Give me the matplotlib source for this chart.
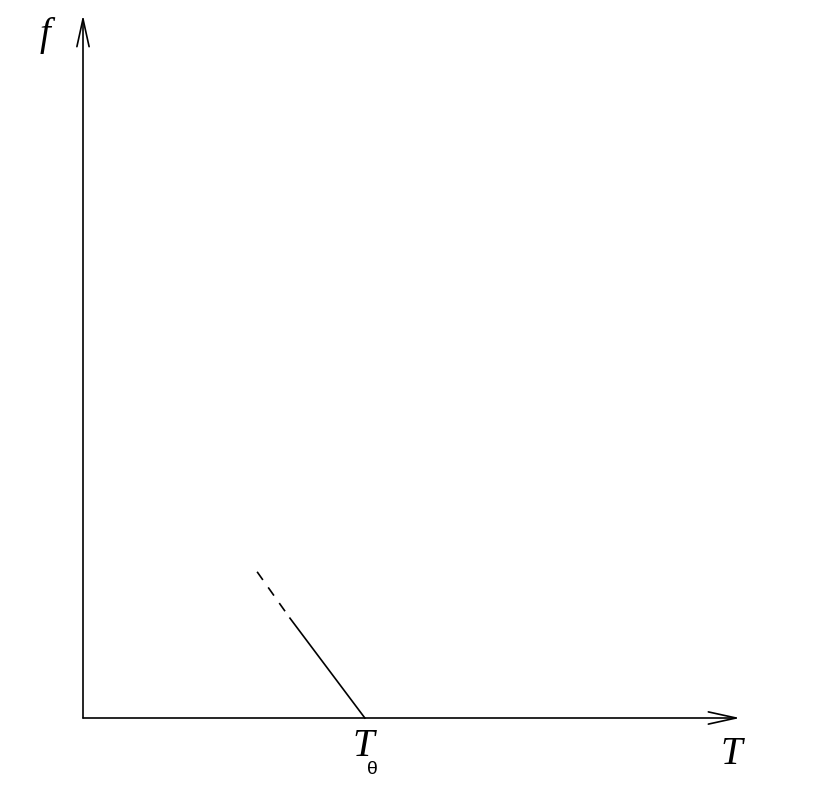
import matplotlib
matplotlib.use("Agg")
import matplotlib.pyplot as plt
from matplotlib.patches import FancyArrowPatch

# axis extent (data units, origin at 0)
x_end = 1.0
y_end = 1.0

# the f(T) line: solid part and dashed extension
t_theta = 0.429
solid_x = [t_theta, 0.315]
solid_y = [0.0, 0.142]
dash_x = [0.265, 0.315]
dash_y = [0.208, 0.142]

W, H = 816, 794
fig = plt.figure(figsize=(W / 100, H / 100), dpi=100)
ax = fig.add_axes([83 / W, 76 / H, 657 / W, 703 / H])
ax.set_xlim(0, x_end)
ax.set_ylim(0, y_end)
ax.axis("off")

arrow_style = "->,head_length=1.0,head_width=0.22"
for end in [(x_end, 0), (0, y_end)]:
    a = FancyArrowPatch((0, 0), end, arrowstyle=arrow_style, mutation_scale=20,
                        lw=1.2, color="black", shrinkA=0, shrinkB=0, clip_on=False)
    ax.add_patch(a)

ax.plot(solid_x, solid_y, color="black", lw=1.2, clip_on=False)
ax.plot(dash_x, dash_y, color="black", lw=1.2, dashes=(6, 5.5), clip_on=False)

serif = "Liberation Serif"
fig.text(45 / W, 1 - 36 / H, "f", family=serif, style="italic", fontsize=28,
         ha="center", va="center")
fig.text(731 / W, 1 - 754 / H, "T", family=serif, style="italic", fontsize=28,
         ha="center", va="center")
fig.text(363 / W, 1 - 747 / H, "T", family=serif, style="italic", fontsize=28,
         ha="center", va="center")
fig.text(372 / W, 1 - 769 / H, "θ", family="Liberation Sans", fontsize=14,
         ha="center", va="center")

fig.savefig("out.png", dpi=100)
